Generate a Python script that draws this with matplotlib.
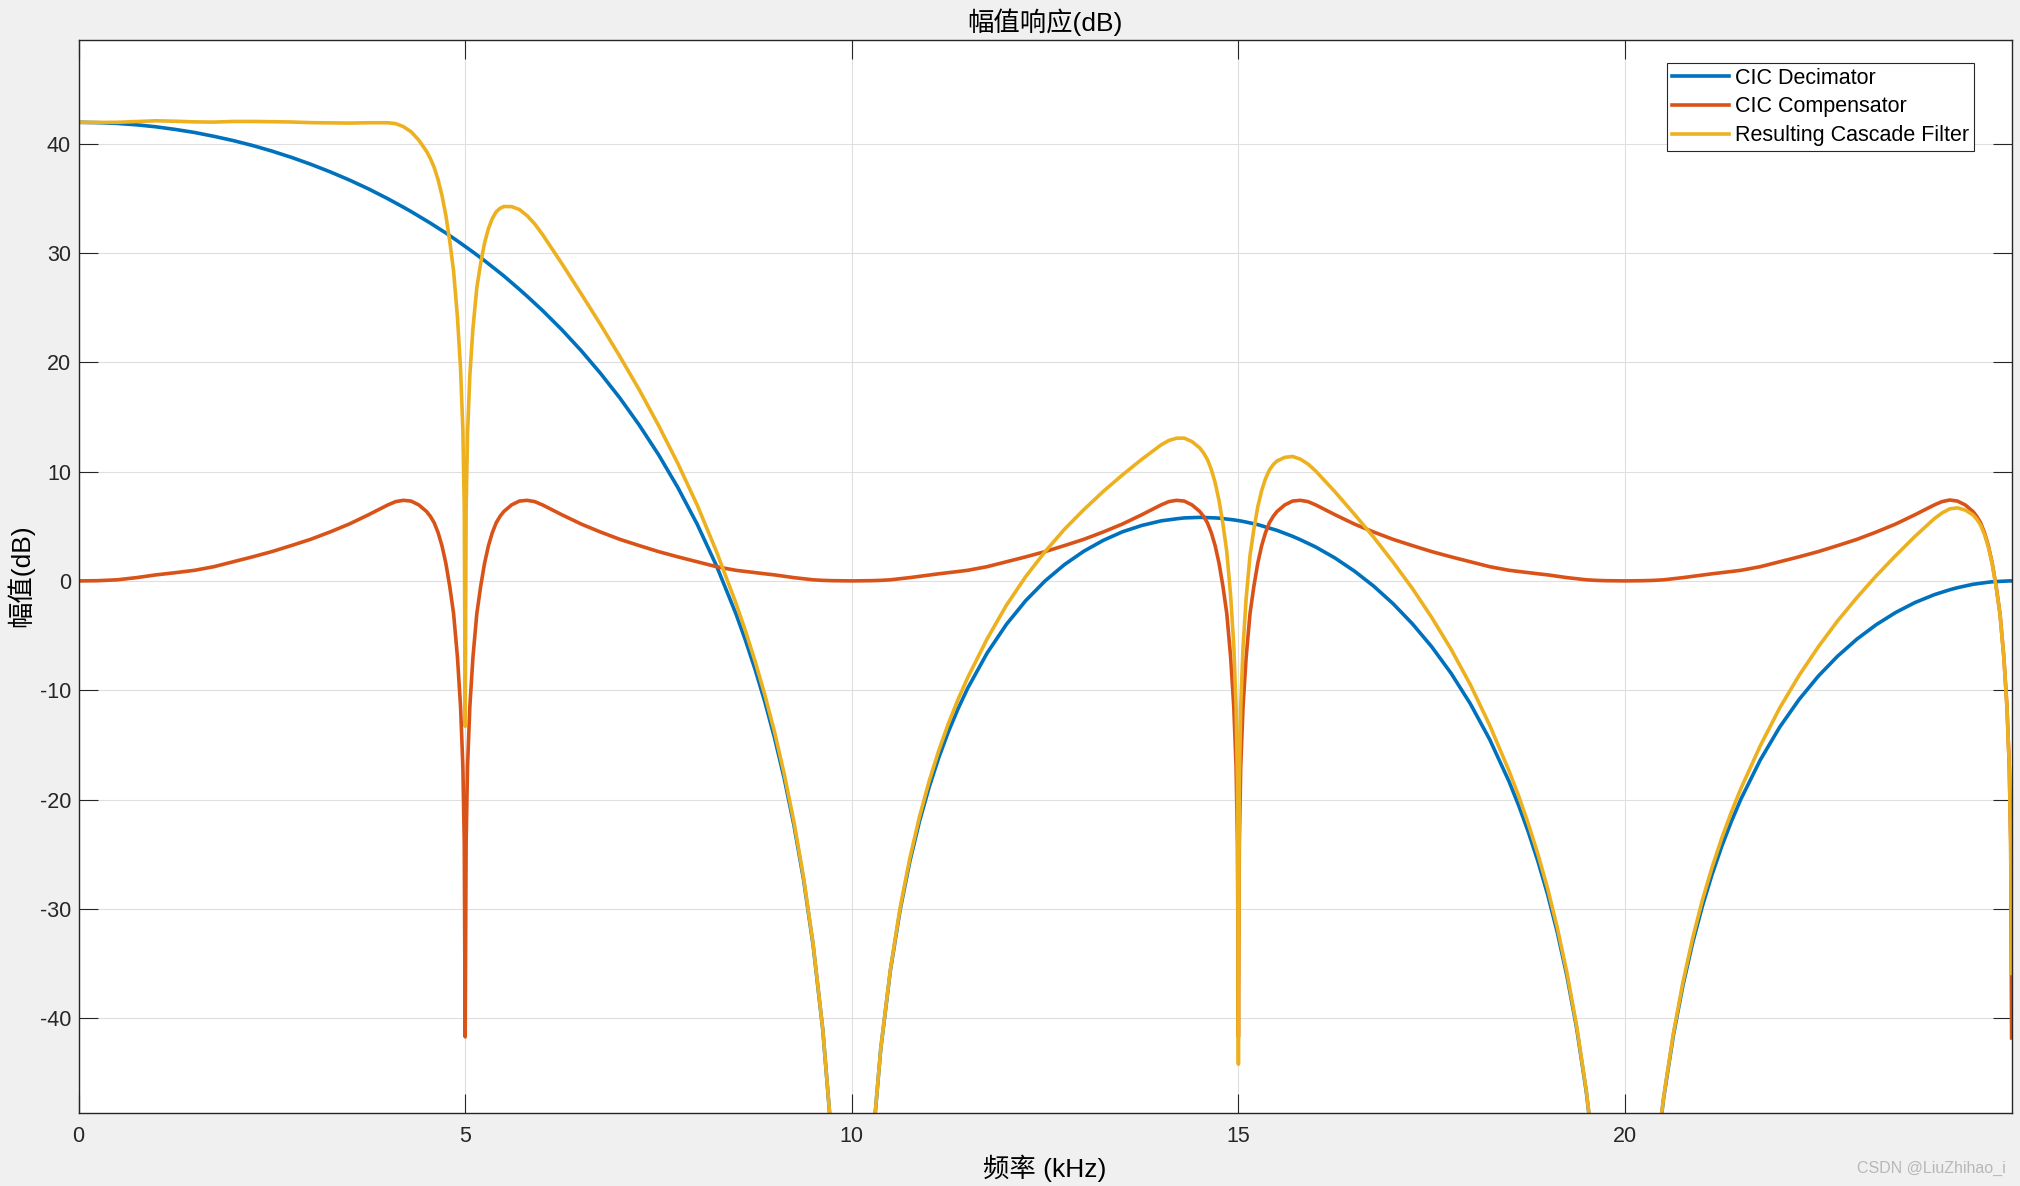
import matplotlib.pyplot as plt

plt.rcParams['font.family'] = ['Liberation Sans', 'Noto Sans CJK SC']
plt.rcParams['axes.unicode_minus'] = False

# Frequency axis (kHz), denser around the notches
freq_khz = [
    0, 0.25, 0.5, 0.75, 1.0, 1.25, 1.5, 1.75, 2.0, 2.25, 2.5, 2.75, 3.0, 3.25, 3.5, 3.75, 4.0,
    4.1, 4.2, 4.3, 4.4, 4.5, 4.55, 4.6, 4.65, 4.7, 4.75, 4.8, 4.85, 4.9, 4.94, 4.97, 4.988,
    5.0,
    5.012, 5.03, 5.06, 5.1, 5.15, 5.2, 5.25, 5.3, 5.35, 5.4, 5.45, 5.5, 5.6, 5.7, 5.8, 5.9,
    6.0, 6.25, 6.5, 6.75, 7.0, 7.25, 7.5, 7.75, 8.0, 8.25, 8.5, 8.625, 8.75, 8.875, 9.0, 9.125, 9.25, 9.375, 9.5,
    9.625, 9.75, 9.875, 10.0,
    10.125, 10.25, 10.375, 10.5, 10.625, 10.75, 10.875, 11.0, 11.125, 11.25, 11.375, 11.5,
    11.75, 12.0, 12.25, 12.5, 12.75, 13.0, 13.25, 13.5, 13.75, 14.0,
    14.1, 14.2, 14.3, 14.4, 14.5, 14.55, 14.6, 14.65, 14.7, 14.75, 14.8, 14.85, 14.9, 14.94, 14.97, 14.988,
    15.0,
    15.012, 15.03, 15.06, 15.1, 15.15, 15.2, 15.25, 15.3, 15.35, 15.4, 15.45, 15.5, 15.6, 15.7, 15.8, 15.9,
    16.0, 16.25, 16.5, 16.75, 17.0, 17.25, 17.5, 17.75, 18.0, 18.25, 18.5, 18.625, 18.75, 18.875, 19.0, 19.125, 19.25, 19.375, 19.5,
    19.625, 19.75, 19.875, 20.0,
    20.125, 20.25, 20.375, 20.5, 20.625, 20.75, 20.875, 21.0, 21.125, 21.25, 21.375, 21.5,
    21.75, 22.0, 22.25, 22.5, 22.75, 23.0, 23.25, 23.5, 23.75, 24.0,
    24.1, 24.2, 24.3, 24.4, 24.5, 24.55, 24.6, 24.65, 24.7, 24.75, 24.8, 24.85, 24.9, 24.94, 24.97, 24.988,
    25.0,
]

cic_decimator_db = [
    41.94, 41.91, 41.84, 41.71, 41.53, 41.29, 41.01, 40.66, 40.27, 39.82, 39.31, 38.74, 38.11, 37.42, 36.67, 35.85, 34.95,
    34.57, 34.18, 33.78, 33.36, 32.94, 32.72, 32.49, 32.27, 32.04, 31.82, 31.58, 31.33, 31.09, 30.89, 30.75, 30.66,
    30.60,
    30.54, 30.44, 30.29, 30.08, 29.81, 29.55, 29.29, 29.01, 28.73, 28.45, 28.17, 27.89, 27.28, 26.67, 26.04, 25.39,
    24.73, 22.97, 21.06, 18.98, 16.73, 14.26, 11.55, 8.54, 5.19, 1.38, -2.98, -5.44, -8.11, -11.06, -14.34, -18.04, -22.28, -27.27, -33.33,
    -41.08, -51.90, -70.2, -100,
    -70.78, -53.03, -42.77, -35.58, -30.09, -25.67, -22.0, -18.87, -16.16, -13.78, -11.68, -9.80,
    -6.60, -3.97, -1.80, 0.0, 1.49, 2.71, 3.70, 4.49, 5.07, 5.49,
    5.59, 5.68, 5.76, 5.79, 5.81, 5.80, 5.79, 5.78, 5.76, 5.74, 5.70, 5.66, 5.62, 5.58, 5.55, 5.53,
    5.52,
    5.50, 5.48, 5.44, 5.38, 5.30, 5.23, 5.15, 5.04, 4.94, 4.83, 4.73, 4.62, 4.35, 4.08, 3.77, 3.44,
    3.10, 2.09, 0.90, -0.48, -2.08, -3.92, -6.02, -8.44, -11.24, -14.50, -18.34, -20.54, -22.97, -25.67, -28.70, -32.16, -36.17, -40.92, -46.75,
    -54.27, -64.88, -82.99, -100,
    -83.12, -65.14, -54.67, -47.28, -41.59, -36.97, -33.09, -29.77, -26.87, -24.30, -22.01, -19.94,
    -16.37, -13.38, -10.86, -8.71, -6.88, -5.32, -4.00, -2.89, -1.98, -1.26,
    -1.04, -0.81, -0.62, -0.47, -0.31, -0.26, -0.21, -0.16, -0.12, -0.08, -0.06, -0.04, -0.02, -0.01, 0.0, 0.0,
    0.0,
]

cic_compensator_db = [
    0.0, 0.02, 0.1, 0.3, 0.55, 0.75, 0.97, 1.3, 1.75, 2.2, 2.68, 3.23, 3.8, 4.47, 5.2, 6.05, 6.95,
    7.25, 7.37, 7.3, 6.95, 6.35, 5.9, 5.3, 4.4, 3.2, 1.6, -0.5, -3.0, -7.0, -11.5, -17.0, -24.0,
    -41.7,
    -24.0, -17.0, -11.5, -7.0, -3.0, -0.5, 1.6, 3.2, 4.4, 5.3, 5.9, 6.35, 6.95, 7.3, 7.37, 7.25,
    6.95, 6.05, 5.2, 4.47, 3.8, 3.23, 2.68, 2.2, 1.75, 1.3, 0.97, 0.86, 0.75, 0.65, 0.55, 0.42, 0.3, 0.2, 0.1,
    0.05, 0.02, 0.01, 0.0,
    0.01, 0.02, 0.05, 0.1, 0.2, 0.3, 0.42, 0.55, 0.65, 0.75, 0.86, 0.97,
    1.3, 1.75, 2.2, 2.68, 3.23, 3.8, 4.47, 5.2, 6.05, 6.95,
    7.25, 7.37, 7.3, 6.95, 6.35, 5.9, 5.3, 4.4, 3.2, 1.6, -0.5, -3.0, -7.0, -11.5, -17.0, -24.0,
    -41.7,
    -24.0, -17.0, -11.5, -7.0, -3.0, -0.5, 1.6, 3.2, 4.4, 5.3, 5.9, 6.35, 6.95, 7.3, 7.37, 7.25,
    6.95, 6.05, 5.2, 4.47, 3.8, 3.23, 2.68, 2.2, 1.75, 1.3, 0.97, 0.86, 0.75, 0.65, 0.55, 0.42, 0.3, 0.2, 0.1,
    0.05, 0.02, 0.01, 0.0,
    0.01, 0.02, 0.05, 0.1, 0.2, 0.3, 0.42, 0.55, 0.65, 0.75, 0.86, 0.97,
    1.3, 1.75, 2.2, 2.68, 3.23, 3.8, 4.47, 5.2, 6.05, 6.95,
    7.25, 7.4, 7.3, 6.95, 6.35, 5.9, 5.3, 4.4, 3.2, 1.6, -0.5, -3.0, -7.0, -11.5, -17.0, -24.0,
    -41.8,
]

cascade_db = [
    41.94, 41.93, 41.94, 42.01, 42.08, 42.04, 41.98, 41.96, 42.02, 42.02, 41.99, 41.97, 41.91, 41.89, 41.87, 41.90, 41.90,
    41.82, 41.55, 41.08, 40.31, 39.29, 38.62, 37.79, 36.67, 35.24, 33.42, 31.08, 28.33, 24.09, 19.39, 13.75, 6.66,
    -13.3,
    6.54, 13.44, 18.79, 23.08, 26.81, 29.05, 30.89, 32.21, 33.13, 33.75, 34.07, 34.24, 34.23, 33.97, 33.41, 32.64,
    31.68, 29.02, 26.26, 23.45, 20.53, 17.49, 14.23, 10.74, 6.94, 2.68, -2.01, -4.58, -7.36, -10.41, -13.79, -17.62, -21.98, -27.07, -33.23,
    -41.03, -51.88, -70.19, -100,
    -70.77, -53.01, -42.72, -35.48, -29.89, -25.37, -21.58, -18.32, -15.51, -13.03, -10.82, -8.83,
    -5.30, -2.22, 0.40, 2.68, 4.72, 6.51, 8.17, 9.69, 11.12, 12.44,
    12.84, 13.05, 13.06, 12.74, 12.16, 11.70, 11.09, 10.18, 8.96, 7.34, 5.20, 2.66, -1.38, -5.92, -11.45, -18.47,
    -44.2,
    -18.50, -11.52, -6.06, -1.62, 2.30, 4.73, 6.75, 8.24, 9.34, 10.13, 10.63, 10.97, 11.30, 11.38, 11.14, 10.69,
    10.05, 8.14, 6.10, 3.99, 1.72, -0.69, -3.34, -6.24, -9.49, -13.20, -17.37, -19.68, -22.22, -25.02, -28.15, -31.74, -35.87, -40.72, -46.65,
    -54.22, -64.86, -82.98, -100,
    -83.11, -65.12, -54.62, -47.18, -41.39, -36.67, -32.67, -29.22, -26.22, -23.55, -21.15, -18.97,
    -15.07, -11.63, -8.66, -6.03, -3.65, -1.52, 0.47, 2.31, 4.07, 5.69,
    6.21, 6.59, 6.68, 6.48, 6.04, 5.64, 5.09, 4.24, 3.08, 1.52, -0.56, -3.04, -7.02, -11.51, -17.0, -24.0,
    -35.9,
]

series_names = ['CIC Decimator', 'CIC Compensator', 'Resulting Cascade Filter']
series_colors = ['#0072BD', '#D95319', '#EDB120']
x_ticks = [0, 5, 10, 15, 20]
y_ticks = [-40, -30, -20, -10, 0, 10, 20, 30, 40]

W, H = 2020, 1186
fig = plt.figure(figsize=(W / 100, H / 100), dpi=100, facecolor='#f0f0f0')
ax = fig.add_axes([78.6 / W, 1 - 1113.4 / H, (2011.6 - 78.6) / W, (1113.4 - 40.2) / H])

for vals, name, col in zip([cic_decimator_db, cic_compensator_db, cascade_db], series_names, series_colors):
    ax.plot(freq_khz, vals, color=col, linewidth=2.6, label=name)

ax.set_xlim(0, 25)
ax.set_ylim(-48.7, 49.45)
ax.set_xticks(x_ticks)
ax.set_yticks(y_ticks)
ax.grid(True, color='#dfdfdf', linewidth=0.8)
ax.set_axisbelow(True)
ax.tick_params(direction='in', length=13.5, width=0.8, colors='#262626',
               top=True, right=True, labelsize=15.5)
ax.tick_params(axis='x', pad=9)
ax.tick_params(axis='y', pad=5.5)
for s in ax.spines.values():
    s.set_color('#262626')
    s.set_linewidth(1.0)

leg = ax.legend(loc='upper right', bbox_to_anchor=(1974 / W, 1 - 63 / H),
                bbox_transform=fig.transFigure, borderaxespad=0, fancybox=False,
                edgecolor='#262626', framealpha=1, fontsize=15.5, handlelength=2.64,
                handletextpad=0.3, labelspacing=0.36, borderpad=0.22)
leg.get_frame().set_linewidth(0.8)

fig.text(1045 / W, 1 - 22 / H, '幅值响应(dB)', ha='center', va='center', fontsize=19)
fig.text(1045 / W, 1 - 1168 / H, '频率 (kHz)', ha='center', va='center', fontsize=19)
fig.text(20.6 / W, 1 - 576 / H, '幅值(dB)', ha='center', va='center', rotation=90, fontsize=19)
fig.text(2006 / W, 1 - 1168 / H, 'CSDN @LiuZhihao_i', ha='right', va='center',
         fontsize=11.5, color='#b8b8b8')

fig.savefig('out.png', dpi=100, facecolor=fig.get_facecolor())
